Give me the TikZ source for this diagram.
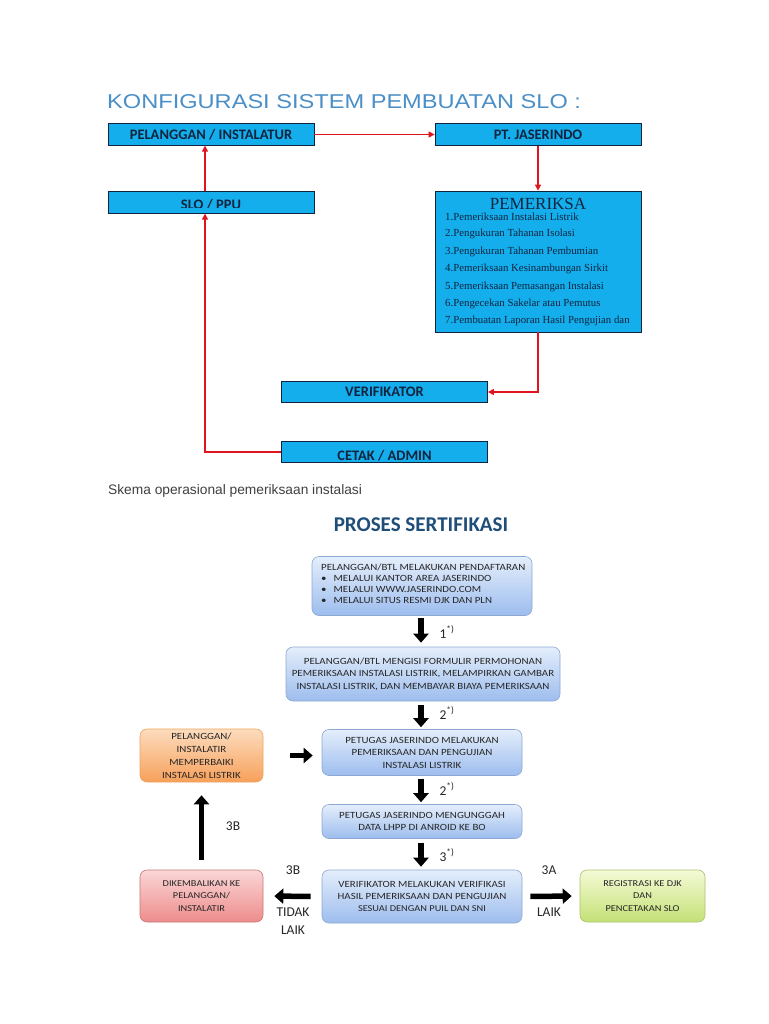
\documentclass[tikz,border=0pt]{standalone}
\usepackage{fontspec}
\setmainfont{Carlito}
\newfontfamily\arialf{Liberation Sans}
\newfontfamily\arialw[FakeStretch=1.18]{Liberation Sans}
\newfontfamily\timesf{Liberation Serif}
\newfontfamily\bw[FakeStretch=1.15]{Carlito}
\usetikzlibrary{arrows.meta,calc}
\definecolor{titleblue}{HTML}{4A8FC7}
\definecolor{boxcyan}{HTML}{14AEEC}
\definecolor{boxtext}{HTML}{10243F}
\definecolor{redline}{HTML}{E0141E}
\definecolor{procblue}{HTML}{1F4E79}
\definecolor{blueTop}{HTML}{E4EEFB}
\definecolor{blueBot}{HTML}{9DBDEE}
\definecolor{blueEdge}{HTML}{8CA8D2}
\tikzset{
  cyanbox/.style={draw=boxtext, line width=0.8pt, fill=boxcyan, minimum width=206pt, minimum height=21.5pt, inner sep=0pt, font=\bfseries\fontsize{14.5}{15}\selectfont, text=boxtext},
  cyantext/.style={inner sep=0pt, font=\bfseries\fontsize{14.5}{15}\selectfont, text=boxtext},
  redarr/.style={draw=redline, line width=1.3pt, -{Triangle[width=6pt,length=6pt]}},
  rbox/.style={rounded corners=7pt, draw=blueEdge, line width=0.6pt, top color=blueTop, bottom color=blueBot, align=center, inner sep=0pt, font=\bw\fontsize{9.5}{12.5}\selectfont, text=black!85},
  b1txt/.style={anchor=west, inner sep=0pt, font=\bw\fontsize{9.5}{10}\selectfont, text=black!85},
  bigarr/.style={line width=5.5pt, -{Triangle[width=15pt,length=9pt]}},
  lbl/.style={font=\fontsize{13.5}{14}\selectfont, text=black!85, inner sep=0pt},
  pitem/.style={anchor=west, inner sep=0pt, font=\timesf\fontsize{10.8}{12}\selectfont, text=boxtext},
}
\begin{document}
\begin{tikzpicture}[x=1pt,y=-1pt]
\useasboundingbox (0,0) rectangle (768,1024);
\fill[white] (0,0) rectangle (768,1024);
% ---------- top part ----------
\node[anchor=west, inner sep=0pt, text=titleblue, font=\arialw\fontsize{20}{22}\selectfont] (title) at (107,102) {KONFIGURASI SISTEM PEMBUATAN SLO :};

\node[cyanbox] (pel) at (211,134.5) {PELANGGAN / INSTALATUR};
\node[cyanbox] (pt) at (538,134.5) {PT. JASERINDO};
\node[cyanbox] (slo) at (211,202.5) {};
\begin{scope}
\clip (110,193) rectangle (312,208);
\node[cyantext] (slot) at (211,204.5) {SLO / PPU};
\end{scope}

\node[draw=boxtext, line width=0.8pt, fill=boxcyan, minimum width=206pt, minimum height=141pt, inner sep=0pt] (pem) at (538,261.5) {};
\node[inner sep=0pt, font=\timesf\fontsize{17}{18}\selectfont, text=boxtext] (pemt) at (538,204) {PEMERIKSA};
\node[pitem] (i1) at (445,216.5) {1.Pemeriksaan Instalasi Listrik};
\node[pitem] (i2) at (445,234) {2.Pengukuran Tahanan Isolasi};
\node[pitem] (i3) at (445,251.5) {3.Pengukuran Tahanan Pembumian};
\node[pitem] (i4) at (445,269) {4.Pemeriksaan Kesinambungan Sirkit};
\node[pitem] (i5) at (445,286.5) {5.Pemeriksaan Pemasangan Instalasi};
\node[pitem] (i6) at (445,303.5) {6.Pengecekan Sakelar atau Pemutus};
\node[pitem] (i7) at (445,321) {7.Pembuatan Laporan Hasil Pengujian dan};

\node[cyanbox] (ver) at (384.5,392) {VERIFIKATOR};
\node[cyanbox] (cet) at (384.5,452) {};
\begin{scope}
\clip (284,442) rectangle (486,461.5);
\node[cyantext] (cett) at (384.5,456) {CETAK / ADMIN};
\end{scope}

\draw[redarr] (pel.east) -- (pt.west);
\draw[redarr] (pt.south) -- (pem.north);
\draw[redarr] (pem.south) |- (ver.east);
\draw[redarr] (cet.west) -| ([xshift=-6pt]slo.south);
\draw[redarr] ([xshift=-6pt]slo.north) -- ([xshift=-6pt]pel.south);

\node[anchor=west, inner sep=0pt, text=black!75, font=\arialf\fontsize{13.75}{15}\selectfont] (cap) at (108,491) {Skema operasional pemeriksaan instalasi};

% ---------- bottom part ----------
\node[inner sep=0pt, text=procblue, font=\bfseries\fontsize{21}{22}\selectfont] (proc) at (421,525) {PROSES SERTIFIKASI};

\node[rbox, minimum width=220pt, minimum height=59pt] (b1) at (422,586) {};
\node[b1txt] (b1a) at (321,567.5) {PELANGGAN/BTL MELAKUKAN PENDAFTARAN};
\node[b1txt] (b1b) at (321,578.5) {\textbullet\hspace{7pt}MELALUI KANTOR AREA JASERINDO};
\node[b1txt] (b1c) at (321,589.5) {\textbullet\hspace{7pt}MELALUI WWW.JASERINDO.COM};
\node[b1txt] (b1d) at (321,600.5) {\textbullet\hspace{7pt}MELALUI SITUS RESMI DJK DAN PLN};

\node[rbox, minimum width=274pt, minimum height=54pt] (b2) at (423,674) {PELANGGAN/BTL MENGISI FORMULIR PERMOHONAN\\PEMERIKSAAN INSTALASI LISTRIK, MELAMPIRKAN GAMBAR\\INSTALASI LISTRIK, DAN MEMBAYAR BIAYA PEMERIKSAAN};

\node[rbox, minimum width=200pt, minimum height=46pt] (b3) at (422,752.5) {PETUGAS JASERINDO MELAKUKAN\\PEMERIKSAAN DAN PENGUJIAN\\INSTALASI LISTRIK};

\node[rbox, draw=orange!60!brown!70, top color={rgb,255:red,252;green,220;blue,190}, bottom color={rgb,255:red,247;green,160;blue,90}, minimum width=123pt, minimum height=53pt, font=\bw\fontsize{9.5}{13}\selectfont] (or) at (201.5,755.5) {PELANGGAN/\\INSTALATIR\\MEMPERBAIKI\\INSTALASI LISTRIK};

\node[rbox, minimum width=200pt, minimum height=34pt, font=\bw\fontsize{9.5}{12}\selectfont] (b4) at (422,821.5) {PETUGAS JASERINDO MENGUNGGAH\\DATA LHPP DI ANROID KE BO};

\node[rbox, minimum width=200pt, minimum height=53pt, font=\bw\fontsize{9.5}{12}\selectfont] (b5) at (422,896.5) {VERIFIKATOR MELAKUKAN VERIFIKASI\\HASIL PEMERIKSAAN DAN PENGUJIAN\\{\fontsize{9}{12}\selectfont SESUAI DENGAN PUIL DAN SNI}};

\node[rbox, draw={rgb,255:red,200;green,120;blue,120}, top color={rgb,255:red,250;green,214;blue,214}, bottom color={rgb,255:red,238;green,140;blue,140}, minimum width=123pt, minimum height=52pt, font=\bw\fontsize{9}{12.5}\selectfont] (rd) at (201.5,896) {DIKEMBALIKAN KE\\PELANGGAN/\\INSTALATIR};

\node[rbox, draw={rgb,255:red,170;green,195;blue,110}, top color={rgb,255:red,244;green,250;blue,214}, bottom color={rgb,255:red,196;green,224;blue,118}, minimum width=125pt, minimum height=52pt, font=\bw\fontsize{9}{12.5}\selectfont] (gr) at (642.5,896) {REGISTRASI KE DJK\\DAN\\PENCETAKAN SLO};

% thick arrows
\draw[bigarr, shorten <=2pt, shorten >=4pt] (b1.south -| 421,0) -- (b2.north -| 421,0);
\draw[bigarr, shorten <=4pt, shorten >=2pt] (b2.south -| 421,0) -- (b3.north -| 421,0);
\draw[bigarr, shorten <=3pt, shorten >=2pt] (b3.south -| 421,0) -- (b4.north -| 421,0);
\draw[bigarr, shorten <=4pt, shorten >=3pt] (b4.south -| 421,0) -- (b5.north -| 421,0);
\draw[bigarr, shorten <=27pt, shorten >=9pt] (or.east) -- (or.east -| b3.west);
\draw[bigarr, shorten <=11pt, shorten >=11pt] (b5.west) -- (rd.east);
\draw[bigarr, shorten <=8pt, shorten >=8pt] (b5.east) -- (gr.west);
\draw[bigarr, shorten <=10pt, shorten >=13pt] (rd.north) -- (or.south);

\node[lbl] (l1) at (447,632) {1\textsuperscript{*)}};
\node[lbl] (l2) at (447,713) {2\textsuperscript{*)}};
\node[lbl] (l3) at (447,789) {2\textsuperscript{*)}};
\node[lbl] (l4) at (447,855) {3\textsuperscript{*)}};
\node[lbl] (l5) at (233,826) {3B};
\node[lbl] (l6) at (293,870) {3B};
\node[lbl, align=center, font=\fontsize{13.5}{18}\selectfont] (l7) at (293,921) {TIDAK\\LAIK};
\node[lbl] (l8) at (549,870) {3A};
\node[lbl] (l9) at (549,912) {LAIK};
\end{tikzpicture}
\end{document}
